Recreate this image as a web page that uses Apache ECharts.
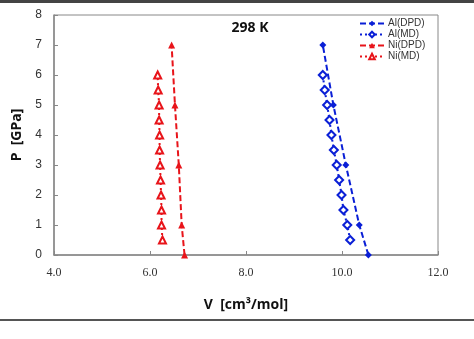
<!DOCTYPE html>
<html>
<head>
<meta charset="utf-8">
<script src="https://cdn.jsdelivr.net/npm/echarts@6/dist/echarts.min.js"></script>
<style>
  html, body { margin: 0; padding: 0; background: #fff; }
  #chart { width: 474px; height: 339px; }
</style>
</head>
<body>
<div id="chart"></div>
<script>
// Pressure (GPa) versus molar volume (cm3/mol) at 298 K
const alDpdP = [0, 1, 3, 5, 7];
const alDpdV = [10.55, 10.36, 10.08, 9.82, 9.60];

const alMdP = [0.5, 1, 1.5, 2, 2.5, 3, 3.5, 4, 4.5, 5, 5.5, 6];
const alMdV = [10.17, 10.11, 10.03, 9.99, 9.94, 9.89, 9.83, 9.78, 9.74, 9.69, 9.64, 9.60];

const niDpdP = [0, 1, 3, 5, 7];
const niDpdV = [6.72, 6.66, 6.60, 6.52, 6.45];

const niMdP = [0.5, 1, 1.5, 2, 2.5, 3, 3.5, 4, 4.5, 5, 5.5, 6];
const niMdV = [6.26, 6.24, 6.24, 6.23, 6.22, 6.21, 6.20, 6.20, 6.19, 6.19, 6.17, 6.16];

const xTicks = [4, 6, 8, 10, 12];
const yTicks = [0, 1, 2, 3, 4, 5, 6, 7, 8];

const pairs = (v, p) => v.map((x, i) => [x, p[i]]);

const BLUE = '#0a1fd6';
const RED = '#e8141a';

const chart = echarts.init(document.getElementById('chart'));
chart.setOption({
  animation: false,
  backgroundColor: '#fff',
  title: {
    text: '298 K',
    left: 245,
    top: 16,
    textAlign: 'center',
    textStyle: { fontFamily: 'Open Sans, Liberation Sans, sans-serif', fontSize: 14, fontWeight: 'bold', color: '#111' }
  },
  legend: {
    orient: 'vertical',
    left: 354,
    top: 13,
    itemWidth: 24,
    itemHeight: 7,
    itemGap: 0,
    textStyle: { fontFamily: 'Liberation Sans, sans-serif', fontSize: 10, lineHeight: 11, color: '#333', padding: [0, 0, 0, -1] },
    data: ['Al(DPD)', 'Al(MD)', 'Ni(DPD)', 'Ni(MD)']
  },
  grid: { left: 54, right: 36, top: 15, bottom: 84, show: true, borderColor: '#888', borderWidth: 1 },
  xAxis: {
    type: 'value',
    min: xTicks[0],
    max: xTicks[xTicks.length - 1],
    interval: 2,
    name: 'V  [cm³/mol]',
    nameLocation: 'middle',
    nameGap: 43,
    nameTextStyle: { fontFamily: 'Open Sans, Liberation Sans, sans-serif', fontSize: 14, fontWeight: 'bold', color: '#111' },
    axisLine: { lineStyle: { color: '#888', width: 1.5 } },
    axisTick: { inside: true, length: 4, lineStyle: { color: '#888' } },
    axisLabel: {
      margin: 12,
      fontFamily: 'Liberation Serif, serif',
      fontSize: 12,
      color: '#333',
      formatter: v => v.toFixed(1)
    },
    splitLine: { show: false }
  },
  yAxis: {
    type: 'value',
    min: yTicks[0],
    max: yTicks[yTicks.length - 1],
    interval: 1,
    name: 'P  [GPa]',
    nameLocation: 'middle',
    nameGap: 27,
    nameTextStyle: { fontFamily: 'Open Sans, Liberation Sans, sans-serif', fontSize: 14, fontWeight: 'bold', color: '#111' },
    axisLine: { lineStyle: { color: '#888', width: 1.5 } },
    axisTick: { inside: true, length: 4, lineStyle: { color: '#888' } },
    axisLabel: { margin: 12, fontFamily: 'Liberation Sans, sans-serif', fontSize: 12, color: '#333' },
    splitLine: { show: false }
  },
  series: [
    {
      name: 'Al(DPD)', type: 'line', data: pairs(alDpdV, alDpdP),
      symbol: 'diamond', symbolSize: 7,
      itemStyle: { color: BLUE },
      lineStyle: { color: BLUE, width: 2, type: [6, 3] }
    },
    {
      name: 'Al(MD)', type: 'line', data: pairs(alMdV, alMdP),
      symbol: 'emptyDiamond', symbolSize: 8,
      itemStyle: { color: BLUE, borderWidth: 1.8 },
      lineStyle: { color: BLUE, width: 2, type: [2, 3] }
    },
    {
      name: 'Ni(DPD)', type: 'line', data: pairs(niDpdV, niDpdP),
      symbol: 'triangle', symbolSize: 7,
      itemStyle: { color: RED },
      lineStyle: { color: RED, width: 2, type: [6, 3] }
    },
    {
      name: 'Ni(MD)', type: 'line', data: pairs(niMdV, niMdP),
      symbol: 'emptyTriangle', symbolSize: 7,
      itemStyle: { color: RED, borderWidth: 1.5 },
      lineStyle: { color: RED, width: 2, type: [2, 3] }
    }
  ],
  graphic: [
    { type: 'rect', left: 0, top: 0, shape: { width: 474, height: 3 }, style: { fill: '#444' } },
    { type: 'rect', left: 0, top: 319, shape: { width: 474, height: 2 }, style: { fill: '#555' } }
  ]
});
</script>
</body>
</html>
